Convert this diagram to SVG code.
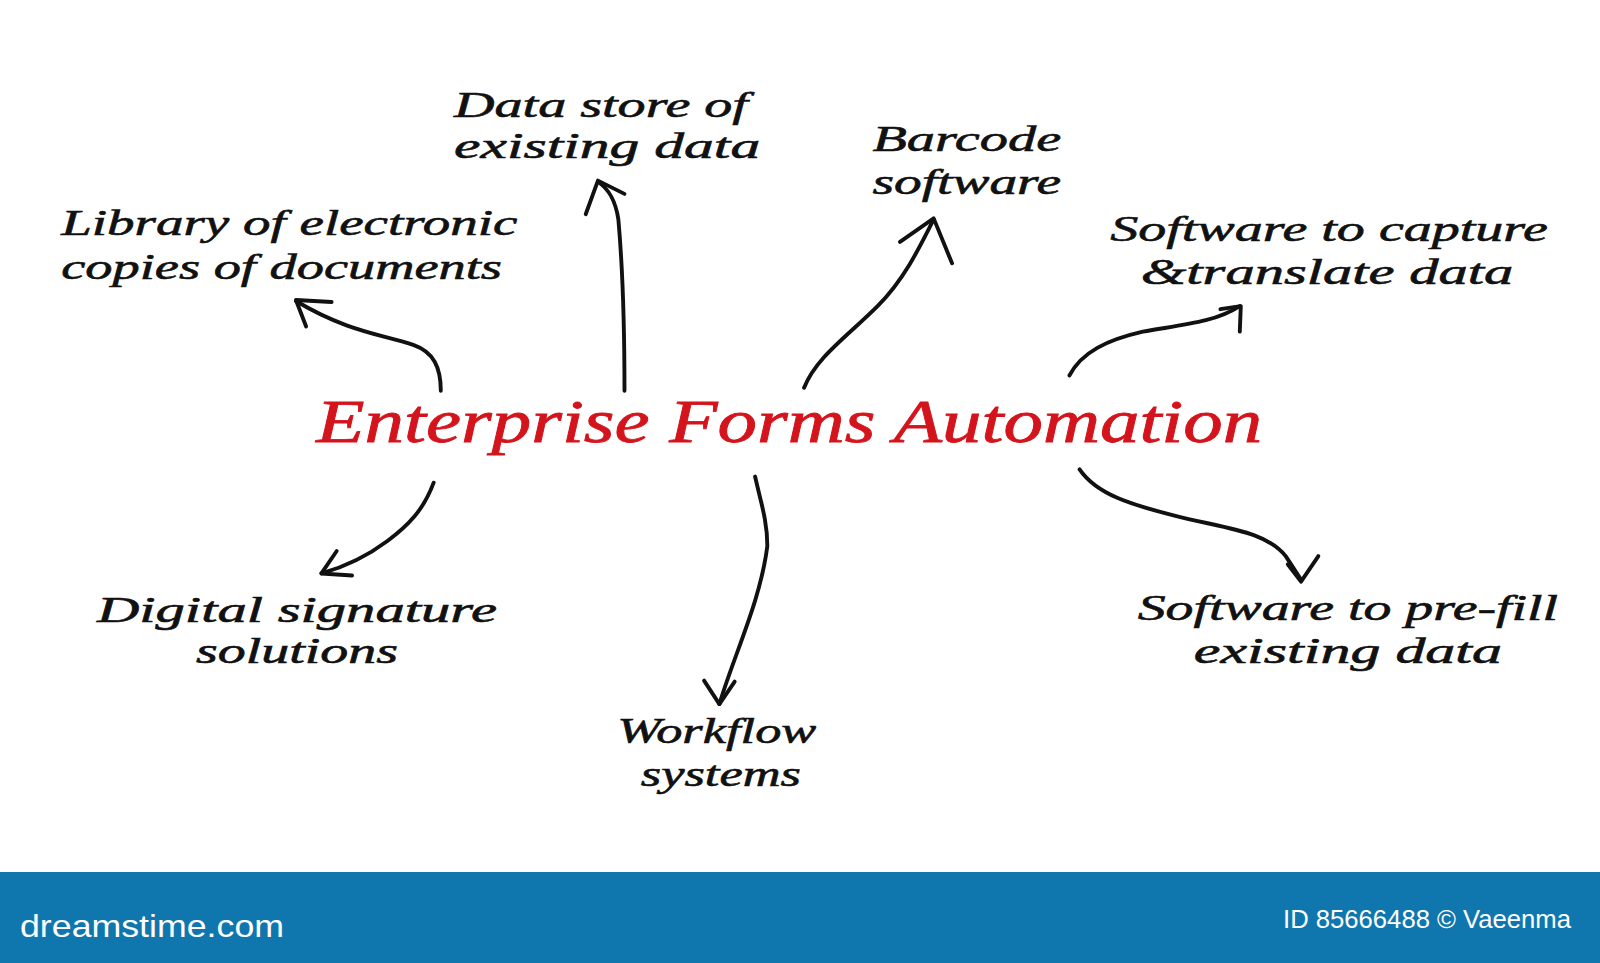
<svg xmlns="http://www.w3.org/2000/svg" width="1600" height="963" viewBox="0 0 1600 963">
<style>
.lbl{font-family:"Liberation Serif",serif;font-style:italic;font-size:36px;fill:#111;stroke:#111;stroke-width:0.6;}
.title{font-family:"Liberation Serif",serif;font-style:italic;font-size:60px;fill:#d4141c;stroke:#d4141c;stroke-width:0.8;}
.c{fill:none;stroke:#111;stroke-width:3.8;stroke-linecap:round;stroke-linejoin:round;}
</style>
<rect width="1600" height="963" fill="#ffffff"/>
<g transform="scale(1.0204)">
<g id="title"><text class="title" x="310" y="433" textLength="927" lengthAdjust="spacingAndGlyphs">Enterprise Forms Automation</text></g>
<g id="n-datastore"><text class="lbl" x="445" y="115" textLength="288" lengthAdjust="spacingAndGlyphs">Data store of</text><text class="lbl" x="445" y="155" textLength="300" lengthAdjust="spacingAndGlyphs">existing data</text></g>
<g id="n-barcode"><text class="lbl" x="855" y="148" textLength="185" lengthAdjust="spacingAndGlyphs">Barcode</text><text class="lbl" x="855" y="190" textLength="185" lengthAdjust="spacingAndGlyphs">software</text></g>
<g id="n-library"><text class="lbl" x="60" y="230" textLength="447" lengthAdjust="spacingAndGlyphs">Library of electronic</text><text class="lbl" x="60" y="273" textLength="432" lengthAdjust="spacingAndGlyphs">copies of documents</text></g>
<g id="n-capture"><text class="lbl" x="1088" y="236" textLength="429" lengthAdjust="spacingAndGlyphs">Software to capture</text><text class="lbl" x="1118" y="278" textLength="365" lengthAdjust="spacingAndGlyphs">&amp;translate data</text></g>
<g id="n-digital"><text class="lbl" x="95" y="610" textLength="392" lengthAdjust="spacingAndGlyphs">Digital signature</text><text class="lbl" x="192" y="650" textLength="198" lengthAdjust="spacingAndGlyphs">solutions</text></g>
<g id="n-workflow"><text class="lbl" x="605" y="728" textLength="195" lengthAdjust="spacingAndGlyphs">Workflow</text><text class="lbl" x="628" y="770" textLength="157" lengthAdjust="spacingAndGlyphs">systems</text></g>
<g id="n-prefill"><text class="lbl" x="1115" y="608" textLength="412" lengthAdjust="spacingAndGlyphs">Software to pre-fill</text><text class="lbl" x="1170" y="650" textLength="302" lengthAdjust="spacingAndGlyphs">existing data</text></g>
<g id="connectors">
<path class="c" d="M432,383 C432,360 425,345 405,338 C375,328 340,325 290,295"/>
<path class="c" d="M325,296 L290,294 L300,320"/>
<path class="c" d="M612,383 C612,330 610,260 606,215 C603,195 596,185 586,178"/>
<path class="c" d="M612,190 L586,177 L574,210"/>
<path class="c" d="M788,380 C800,350 830,330 860,300 C885,275 900,245 915,215"/>
<path class="c" d="M882,237 L915,214 L933,258"/>
<path class="c" d="M1048,368 C1060,345 1085,333 1120,325 C1160,318 1190,316 1215,300"/>
<path class="c" d="M1196,303 L1216,300 L1215,325"/>
<path class="c" d="M425,473 C415,500 400,515 380,530 C360,545 340,555 315,562"/>
<path class="c" d="M330,540 L315,562 L345,564"/>
<path class="c" d="M740,467 C745,490 752,510 752,535 C745,590 720,640 705,690"/>
<path class="c" d="M690,667 L705,690 L720,668"/>
<path class="c" d="M1058,460 C1075,485 1110,495 1150,505 C1200,518 1240,520 1260,545 L1275,568"/>
<path class="c" d="M1262,553 L1275,570 L1292,545"/>
</g>
</g>
<g id="footer">
<rect x="0" y="872" width="1600" height="91" fill="#0f77ae"/>
<text x="20" y="937" font-family="'Liberation Sans',sans-serif" font-size="32" fill="#ffffff" textLength="264" lengthAdjust="spacingAndGlyphs">dreamstime.com</text>
<text x="1283" y="928" font-family="'Liberation Sans',sans-serif" font-size="25" fill="#ffffff" textLength="288" lengthAdjust="spacingAndGlyphs">ID 85666488 © Vaeenma</text>
</g>
</svg>
